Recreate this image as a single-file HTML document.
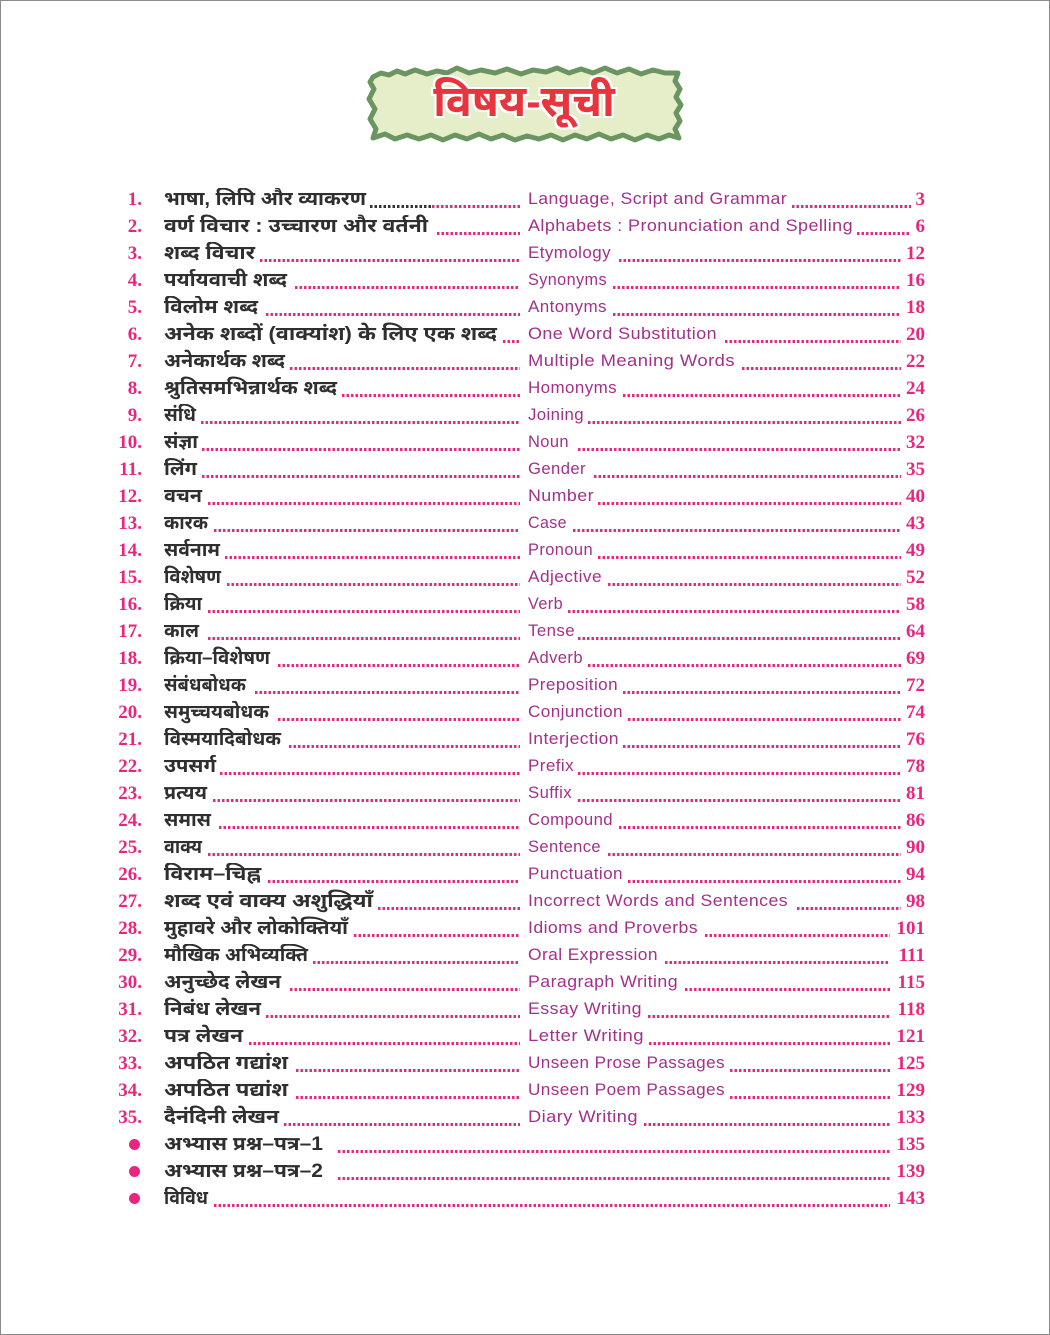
<!DOCTYPE html>
<html>
<head>
<meta charset="utf-8">
<style>
html,body{margin:0;padding:0;background:#fff;}
#pg{position:relative;width:1048px;height:1333px;border:1px solid #8a8a8a;overflow:hidden;background:#fff;}
.r{position:absolute;left:0;width:1048px;height:27px;line-height:27px;}
.n{position:absolute;right:907px;top:0;font-family:"Liberation Serif",serif;font-weight:bold;font-size:19px;color:#e8267f;}
.h{position:absolute;left:163px;top:0;white-space:nowrap;display:inline-block;transform-origin:0 50%;font-family:"Liberation Sans","Noto Sans Devanagari","Lohit Devanagari","FreeSans",sans-serif;font-size:19px;font-weight:bold;color:#2f2f2f;}
.e{position:absolute;left:527px;top:0;white-space:nowrap;display:inline-block;transform-origin:0 50%;font-family:"Liberation Sans",sans-serif;font-size:16.5px;letter-spacing:0.4px;color:#a3308c;}
.p{position:absolute;right:124px;top:0;font-family:"Liberation Serif",serif;font-weight:bold;font-size:19px;color:#e8267f;}
.d{position:absolute;top:19px;height:2.5px;background:linear-gradient(to right,#e02a84 2.4px,transparent 2.4px) 0 0/4.5px 2.5px repeat-x;}
.dk{background:linear-gradient(to right,#333 2.4px,transparent 2.4px) 0 0/4.5px 2.5px repeat-x;}
.b{position:absolute;left:128px;top:8px;width:11px;height:11px;border-radius:50%;background:#e8267f;}
#title{position:absolute;left:373px;width:300px;top:76px;height:50px;line-height:50px;text-align:center;font-family:"Liberation Sans","Noto Sans Devanagari","Lohit Devanagari",sans-serif;font-weight:bold;font-size:43px;color:#e8343c;
text-shadow:2px 0 0 #fff,-2px 0 0 #fff,0 2px 0 #fff,0 -2px 0 #fff,2px 2px 0 #fff,-2px -2px 0 #fff,2px -2px 0 #fff,-2px 2px 0 #fff;}
</style>
</head>
<body>
<div id="pg">
<svg style="position:absolute;left:0;top:0" width="1048" height="200">
<path d="M372,76 L380,72 L388,74 L396,70 L404,73 L414,69 L426,73 L436,70 L446,72 L456,67 L468,72 L480,69 L494,72 L506,68 L520,73 L532,69 L545,71 L556,67 L568,72 L580,68 L592,72 L604,67 L616,72 L628,68 L640,73 L652,69 L664,72 L677,72 L674,80 L679,88 L675,96 L680,104 L675,112 L679,120 L674,128 L678,137 L668,134 L658,138 L646,134 L634,139 L622,134 L610,138 L598,133 L586,138 L574,134 L562,139 L550,134 L538,138 L526,135 L514,139 L502,134 L490,138 L478,133 L466,138 L454,134 L442,139 L430,134 L418,138 L406,134 L394,138 L384,133 L372,137 L375,128 L369,118 L374,108 L368,98 L373,88 L369,81 Z" fill="#e5eec8" stroke="#6a9460" stroke-width="5" stroke-linejoin="round"/>
</svg>
<div id="title">विषय-सूची</div>

<div class="r" style="top:185px"><span class="n">1.</span><span class="h" style="width:202px">भाषा, लिपि और व्याकरण</span><i class="d dk" style="left:369px;width:62px"></i><i class="d" style="left:431px;width:88px"></i><span class="e" style="width:259px">Language, Script and Grammar</span><i class="d" style="left:791px;width:119px"></i><span class="p">3</span></div>
<div class="r" style="top:212px"><span class="n">2.</span><span class="h" style="width:264px">वर्ण विचार : उच्चारण और वर्तनी</span><i class="d" style="left:436px;width:83px"></i><span class="e" style="width:325px">Alphabets : Pronunciation and Spelling</span><i class="d" style="left:856px;width:54px"></i><span class="p">6</span></div>
<div class="r" style="top:239px"><span class="n">3.</span><span class="h" style="width:91px">शब्द विचार</span><i class="d" style="left:259px;width:260px"></i><span class="e" style="width:83px">Etymology</span><i class="d" style="left:618px;width:282px"></i><span class="p">12</span></div>
<div class="r" style="top:266px"><span class="n">4.</span><span class="h" style="width:123px">पर्यायवाची शब्द</span><i class="d" style="left:294px;width:225px"></i><span class="e" style="width:79px">Synonyms</span><i class="d" style="left:612px;width:288px"></i><span class="p">16</span></div>
<div class="r" style="top:293px"><span class="n">5.</span><span class="h" style="width:94px">विलोम शब्द</span><i class="d" style="left:265px;width:254px"></i><span class="e" style="width:79px">Antonyms</span><i class="d" style="left:612px;width:288px"></i><span class="p">18</span></div>
<div class="r" style="top:320px"><span class="n">6.</span><span class="h" style="width:333px">अनेक शब्दों (वाक्यांश) के लिए एक शब्द</span><i class="d" style="left:502px;width:17px"></i><span class="e" style="width:189px">One Word Substitution</span><i class="d" style="left:724px;width:176px"></i><span class="p">20</span></div>
<div class="r" style="top:347px"><span class="n">7.</span><span class="h" style="width:121px">अनेकार्थक शब्द</span><i class="d" style="left:289px;width:230px"></i><span class="e" style="width:207px">Multiple Meaning Words</span><i class="d" style="left:741px;width:159px"></i><span class="p">22</span></div>
<div class="r" style="top:374px"><span class="n">8.</span><span class="h" style="width:173px">श्रुतिसमभिन्नार्थक शब्द</span><i class="d" style="left:341px;width:178px"></i><span class="e" style="width:89px">Homonyms</span><i class="d" style="left:622px;width:278px"></i><span class="p">24</span></div>
<div class="r" style="top:401px"><span class="n">9.</span><span class="h" style="width:32px">संधि</span><i class="d" style="left:200px;width:319px"></i><span class="e" style="width:56px">Joining</span><i class="d" style="left:587px;width:313px"></i><span class="p">26</span></div>
<div class="r" style="top:428px"><span class="n">10.</span><span class="h" style="width:34px">संज्ञा</span><i class="d" style="left:201px;width:318px"></i><span class="e" style="width:41px">Noun</span><i class="d" style="left:577px;width:323px"></i><span class="p">32</span></div>
<div class="r" style="top:455px"><span class="n">11.</span><span class="h" style="width:33px">लिंग</span><i class="d" style="left:201px;width:318px"></i><span class="e" style="width:58px">Gender</span><i class="d" style="left:593px;width:307px"></i><span class="p">35</span></div>
<div class="r" style="top:482px"><span class="n">12.</span><span class="h" style="width:38px">वचन</span><i class="d" style="left:207px;width:312px"></i><span class="e" style="width:66px">Number</span><i class="d" style="left:597px;width:303px"></i><span class="p">40</span></div>
<div class="r" style="top:509px"><span class="n">13.</span><span class="h" style="width:44px">कारक</span><i class="d" style="left:213px;width:306px"></i><span class="e" style="width:39px">Case</span><i class="d" style="left:572px;width:328px"></i><span class="p">43</span></div>
<div class="r" style="top:536px"><span class="n">14.</span><span class="h" style="width:56px">सर्वनाम</span><i class="d" style="left:224px;width:295px"></i><span class="e" style="width:65px">Pronoun</span><i class="d" style="left:597px;width:303px"></i><span class="p">49</span></div>
<div class="r" style="top:563px"><span class="n">15.</span><span class="h" style="width:57px">विशेषण</span><i class="d" style="left:226px;width:293px"></i><span class="e" style="width:74px">Adjective</span><i class="d" style="left:607px;width:293px"></i><span class="p">52</span></div>
<div class="r" style="top:590px"><span class="n">16.</span><span class="h" style="width:38px">क्रिया</span><i class="d" style="left:207px;width:312px"></i><span class="e" style="width:35px">Verb</span><i class="d" style="left:567px;width:333px"></i><span class="p">58</span></div>
<div class="r" style="top:617px"><span class="n">17.</span><span class="h" style="width:35px">काल</span><i class="d" style="left:207px;width:312px"></i><span class="e" style="width:47px">Tense</span><i class="d" style="left:577px;width:323px"></i><span class="p">64</span></div>
<div class="r" style="top:644px"><span class="n">18.</span><span class="h" style="width:106px">क्रिया–विशेषण</span><i class="d" style="left:277px;width:242px"></i><span class="e" style="width:55px">Adverb</span><i class="d" style="left:587px;width:313px"></i><span class="p">69</span></div>
<div class="r" style="top:671px"><span class="n">19.</span><span class="h" style="width:82px">संबंधबोधक</span><i class="d" style="left:254px;width:265px"></i><span class="e" style="width:90px">Preposition</span><i class="d" style="left:622px;width:278px"></i><span class="p">72</span></div>
<div class="r" style="top:698px"><span class="n">20.</span><span class="h" style="width:105px">समुच्चयबोधक</span><i class="d" style="left:277px;width:242px"></i><span class="e" style="width:95px">Conjunction</span><i class="d" style="left:627px;width:273px"></i><span class="p">74</span></div>
<div class="r" style="top:725px"><span class="n">21.</span><span class="h" style="width:117px">विस्मयादिबोधक</span><i class="d" style="left:288px;width:231px"></i><span class="e" style="width:91px">Interjection</span><i class="d" style="left:622px;width:278px"></i><span class="p">76</span></div>
<div class="r" style="top:752px"><span class="n">22.</span><span class="h" style="width:52px">उपसर्ग</span><i class="d" style="left:219px;width:300px"></i><span class="e" style="width:46px">Prefix</span><i class="d" style="left:577px;width:323px"></i><span class="p">78</span></div>
<div class="r" style="top:779px"><span class="n">23.</span><span class="h" style="width:43px">प्रत्यय</span><i class="d" style="left:212px;width:307px"></i><span class="e" style="width:44px">Suffix</span><i class="d" style="left:577px;width:323px"></i><span class="p">81</span></div>
<div class="r" style="top:806px"><span class="n">24.</span><span class="h" style="width:47px">समास</span><i class="d" style="left:218px;width:301px"></i><span class="e" style="width:85px">Compound</span><i class="d" style="left:618px;width:282px"></i><span class="p">86</span></div>
<div class="r" style="top:833px"><span class="n">25.</span><span class="h" style="width:38px">वाक्य</span><i class="d" style="left:207px;width:312px"></i><span class="e" style="width:73px">Sentence</span><i class="d" style="left:607px;width:293px"></i><span class="p">90</span></div>
<div class="r" style="top:860px"><span class="n">26.</span><span class="h" style="width:97px">विराम–चिह्न</span><i class="d" style="left:267px;width:252px"></i><span class="e" style="width:95px">Punctuation</span><i class="d" style="left:627px;width:273px"></i><span class="p">94</span></div>
<div class="r" style="top:887px"><span class="n">27.</span><span class="h" style="width:209px">शब्द एवं वाक्य अशुद्धियाँ</span><i class="d" style="left:377px;width:142px"></i><span class="e" style="width:260px">Incorrect Words and Sentences</span><i class="d" style="left:796px;width:104px"></i><span class="p">98</span></div>
<div class="r" style="top:914px"><span class="n">28.</span><span class="h" style="width:184px">मुहावरे और लोकोक्तियाँ</span><i class="d" style="left:353px;width:166px"></i><span class="e" style="width:170px">Idioms and Proverbs</span><i class="d" style="left:704px;width:185px"></i><span class="p">101</span></div>
<div class="r" style="top:941px"><span class="n">29.</span><span class="h" style="width:144px">मौखिक अभिव्यक्ति</span><i class="d" style="left:312px;width:207px"></i><span class="e" style="width:130px">Oral Expression</span><i class="d" style="left:664px;width:225px"></i><span class="p">111</span></div>
<div class="r" style="top:968px"><span class="n">30.</span><span class="h" style="width:117px">अनुच्छेद लेखन</span><i class="d" style="left:289px;width:230px"></i><span class="e" style="width:150px">Paragraph Writing</span><i class="d" style="left:684px;width:205px"></i><span class="p">115</span></div>
<div class="r" style="top:995px"><span class="n">31.</span><span class="h" style="width:97px">निबंध लेखन</span><i class="d" style="left:265px;width:254px"></i><span class="e" style="width:114px">Essay Writing</span><i class="d" style="left:647px;width:242px"></i><span class="p">118</span></div>
<div class="r" style="top:1022px"><span class="n">32.</span><span class="h" style="width:79px">पत्र लेखन</span><i class="d" style="left:248px;width:271px"></i><span class="e" style="width:116px">Letter Writing</span><i class="d" style="left:648px;width:241px"></i><span class="p">121</span></div>
<div class="r" style="top:1049px"><span class="n">33.</span><span class="h" style="width:124px">अपठित गद्यांश</span><i class="d" style="left:295px;width:224px"></i><span class="e" style="width:197px">Unseen Prose Passages</span><i class="d" style="left:729px;width:160px"></i><span class="p">125</span></div>
<div class="r" style="top:1076px"><span class="n">34.</span><span class="h" style="width:124px">अपठित पद्यांश</span><i class="d" style="left:295px;width:224px"></i><span class="e" style="width:197px">Unseen Poem Passages</span><i class="d" style="left:729px;width:160px"></i><span class="p">129</span></div>
<div class="r" style="top:1103px"><span class="n">35.</span><span class="h" style="width:115px">दैनंदिनी लेखन</span><i class="d" style="left:283px;width:236px"></i><span class="e" style="width:110px">Diary Writing</span><i class="d" style="left:643px;width:246px"></i><span class="p">133</span></div>
<div class="r" style="top:1130px"><span class="b"></span><span class="h" style="width:159px">अभ्यास प्रश्न–पत्र–1</span><i class="d" style="left:337px;width:552px"></i><span class="p">135</span></div>
<div class="r" style="top:1157px"><span class="b"></span><span class="h" style="width:159px">अभ्यास प्रश्न–पत्र–2</span><i class="d" style="left:337px;width:552px"></i><span class="p">139</span></div>
<div class="r" style="top:1184px"><span class="b"></span><span class="h" style="width:44px">विविध</span><i class="d" style="left:213px;width:676px"></i><span class="p">143</span></div>
</div>
<script>
(function(){
  var els=document.querySelectorAll('.h,.e');
  for(var i=0;i<els.length;i++){
    var el=els[i];
    var w=parseFloat(el.style.width);
    if(!w)continue;
    el.style.width='auto';
    var nat=el.getBoundingClientRect().width;
    if(nat>0){
      var s=w/nat;
      if(s<0.5)s=0.5; if(s>1.8)s=1.8;
      el.style.transform='scaleX('+s+')';
    }
  }
})();
</script>
</body>
</html>
